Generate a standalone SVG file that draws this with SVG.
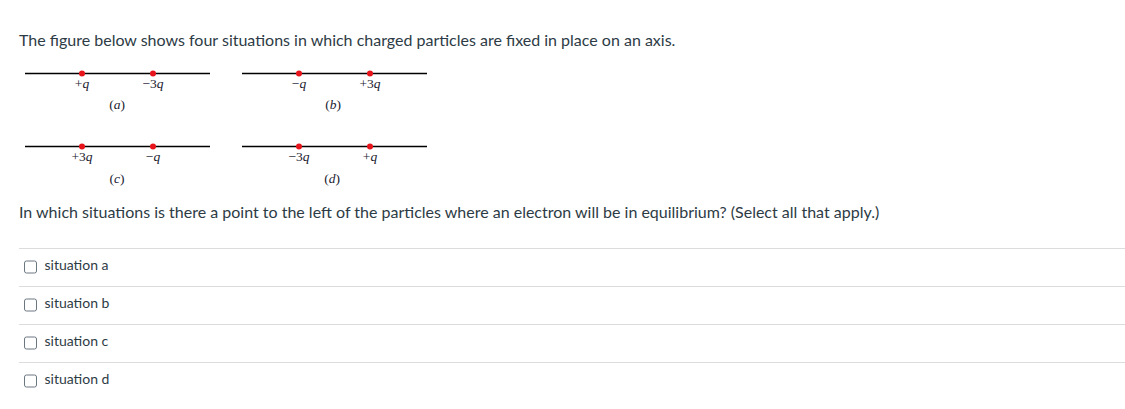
<svg xmlns="http://www.w3.org/2000/svg" width="1125" height="409" viewBox="0 0 1125 409">
<style>
.txt{font-family:Lato,"Open Sans","Noto Sans",sans-serif;fill:#2d3b45;}
.main{font-size:16px;}
.opt{font-size:14px;}
.axis{stroke:#000;stroke-width:1.3;}
.dot{fill:#e8141c;}
.lab{font-family:"Liberation Serif","DejaVu Serif",serif;font-size:13.5px;fill:#1a1a2e;text-anchor:middle;}
.it{font-style:italic;}
.sep{stroke:#dcdcdc;stroke-width:1;}
.box{fill:#fff;stroke:#6b7780;stroke-width:1;}
</style>
<rect width="1125" height="409" fill="#fff"/>
<text class="txt main" x="19" y="46">The figure below shows four situations in which charged particles are fixed in place on an axis.</text>

<g id="situation-a">
<line class="axis" x1="25" y1="73.5" x2="210" y2="73.5"/>
<circle class="dot" cx="82" cy="73.5" r="3"/>
<circle class="dot" cx="153" cy="73.5" r="3"/>
<text class="lab" x="82" y="88">+<tspan class="it">q</tspan></text>
<text class="lab" x="153" y="88">−3<tspan class="it">q</tspan></text>
<text class="lab" x="117" y="109">(<tspan class="it">a</tspan>)</text>
</g>
<g id="situation-b">
<line class="axis" x1="242" y1="73.5" x2="427" y2="73.5"/>
<circle class="dot" cx="299" cy="73.5" r="3"/>
<circle class="dot" cx="370" cy="73.5" r="3"/>
<text class="lab" x="299" y="88">−<tspan class="it">q</tspan></text>
<text class="lab" x="370" y="88">+3<tspan class="it">q</tspan></text>
<text class="lab" x="333" y="109">(<tspan class="it">b</tspan>)</text>
</g>
<g id="situation-c">
<line class="axis" x1="25" y1="146.5" x2="210" y2="146.5"/>
<circle class="dot" cx="82" cy="146.5" r="3"/>
<circle class="dot" cx="153" cy="146.5" r="3"/>
<text class="lab" x="82" y="161">+3<tspan class="it">q</tspan></text>
<text class="lab" x="153" y="161">−<tspan class="it">q</tspan></text>
<text class="lab" x="117" y="183">(<tspan class="it">c</tspan>)</text>
</g>
<g id="situation-d">
<line class="axis" x1="242" y1="146.5" x2="427" y2="146.5"/>
<circle class="dot" cx="299" cy="146.5" r="3"/>
<circle class="dot" cx="370" cy="146.5" r="3"/>
<text class="lab" x="299" y="161">−3<tspan class="it">q</tspan></text>
<text class="lab" x="370" y="161">+<tspan class="it">q</tspan></text>
<text class="lab" x="332" y="183">(<tspan class="it">d</tspan>)</text>
</g>
<g id="connectors"></g>

<text class="txt main" x="19" y="218">In which situations is there a point to the left of the particles where an electron will be in equilibrium? (Select all that apply.)</text>

<g id="options">
<line class="sep" x1="19" y1="248.5" x2="1125" y2="248.5"/>
<line class="sep" x1="19" y1="286.5" x2="1125" y2="286.5"/>
<line class="sep" x1="19" y1="324.5" x2="1125" y2="324.5"/>
<line class="sep" x1="19" y1="362.5" x2="1125" y2="362.5"/>
<g id="opt-a"><rect class="box" x="24.5" y="261" width="12" height="12" rx="2"/><text class="txt opt" x="44.5" y="269.5">situation a</text></g>
<g id="opt-b"><rect class="box" x="24.5" y="299" width="12" height="12" rx="2"/><text class="txt opt" x="44.5" y="307.5">situation b</text></g>
<g id="opt-c"><rect class="box" x="24.5" y="337" width="12" height="12" rx="2"/><text class="txt opt" x="44.5" y="345.5">situation c</text></g>
<g id="opt-d"><rect class="box" x="24.5" y="375" width="12" height="12" rx="2"/><text class="txt opt" x="44.5" y="383.5">situation d</text></g>
</g>
</svg>
